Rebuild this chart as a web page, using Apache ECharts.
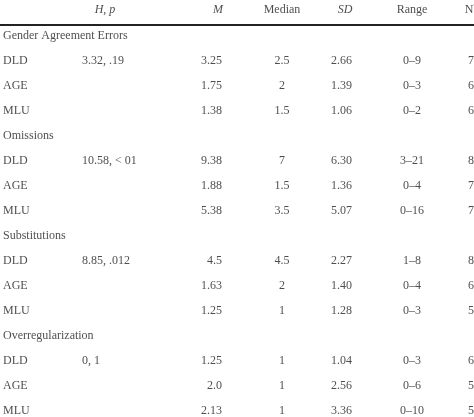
<!DOCTYPE html>
<html>
<head>
<meta charset="UTF-8">
<style>html,body{margin:0;padding:0;background:#fff}#c{width:474px;height:417px}</style>
<script src="https://cdn.jsdelivr.net/npm/echarts@6/dist/echarts.min.js"></script>
</head>
<body>
<div id="c"></div>
<script>
// table content
var headers = ['', 'H, p', 'M', 'Median', 'SD', 'Range', 'Nb'];
var groups = ['Gender Agreement Errors', 'Omissions', 'Substitutions', 'Overregularization'];
var labels = ['DLD', 'AGE', 'MLU'];
var hp = ['3.32, .19', '10.58, < 01', '8.85, .012', '0, 1'];
var means = [['3.25','1.75','1.38'], ['9.38','1.88','5.38'], ['4.5','1.63','1.25'], ['1.25','2.0','2.13']];
var medians = [['2.5','2','1.5'], ['7','1.5','3.5'], ['4.5','2','1'], ['1','1','1']];
var sds = [['2.66','1.39','1.06'], ['6.30','1.36','5.07'], ['2.27','1.40','1.28'], ['1.04','2.56','3.36']];
var ranges = [['0–9','0–3','0–2'], ['3–21','0–4','0–16'], ['1–8','0–4','0–3'], ['0–3','0–6','0–10']];
var nbs = [['7','6','6'], ['8','7','7'], ['8','6','5'], ['6','5','5']];

var colX = [3, 82, 222, 282, 352, 412, 468];
var colAlign = ['left', 'left', 'right', 'center', 'right', 'center', 'left'];
var headX = [0, 105, 218, 282, 345, 412, 472];
var italic = [false, true, true, false, true, false, false];

var cols = [[], [], [], [], [], [], []];
var row = 0;
groups.forEach(function (g, gi) {
  cols[0].push([colX[0], row, g]);
  row++;
  labels.forEach(function (l, li) {
    cols[0].push([colX[0], row, l]);
    if (li === 0) cols[1].push([colX[1], row, hp[gi]]);
    cols[2].push([colX[2], row, means[gi][li]]);
    cols[3].push([colX[3], row, medians[gi][li]]);
    cols[4].push([colX[4], row, sds[gi][li]]);
    cols[5].push([colX[5], row, ranges[gi][li]]);
    cols[6].push([colX[6], row, nbs[gi][li]]);
    row++;
  });
});
var headRow = [];
headers.forEach(function (h, i) { if (h) headRow.push({ value: [headX[i], -1.04, h], italic: italic[i] }); });

var font = { fontFamily: 'Liberation Serif', fontSize: 12, color: '#222' };
var series = cols.map(function (d, i) {
  return {
    type: 'scatter', symbolSize: 0, data: d, silent: true,
    label: Object.assign({ show: true, position: 'inside', align: colAlign[i], verticalAlign: 'middle',
      formatter: function (p) { return p.value[2]; } }, font)
  };
});
series.push({
  type: 'scatter', symbolSize: 0, silent: true,
  data: headRow.map(function (h) { return { value: h.value, label: { fontStyle: h.italic ? 'italic' : 'normal' } }; }),
  label: Object.assign({ show: true, position: 'inside', align: 'center', verticalAlign: 'middle',
    formatter: function (p) { return p.value[2]; } }, font),
  markLine: {
    symbol: 'none', silent: true, label: { show: false },
    lineStyle: { color: '#222', type: 'solid', width: 2 },
    data: [[{ coord: [0, -0.44] }, { coord: [474, -0.44] }]]
  }
});

var chart = echarts.init(document.getElementById('c'));
chart.setOption({
  animation: false,
  grid: { left: 0, right: 0, top: 0, bottom: 0 },
  xAxis: { type: 'value', min: 0, max: 474, show: false },
  yAxis: { type: 'value', min: -1.44, max: 15.24, inverse: true, show: false },
  series: series
});
</script>
</body>
</html>
